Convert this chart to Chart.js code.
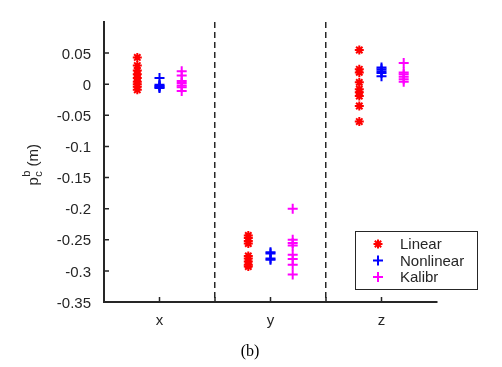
<!DOCTYPE html>
<html>
<head>
    <title>p_c^b per axis</title>
    <style>
        body { margin: 0; background: #fff; }
    </style>
</head>
<body>
    <canvas id="plot" width="502" height="367"></canvas>

<script src="https://cdn.jsdelivr.net/npm/chart.js@4.4.0/dist/chart.umd.min.js"></script>
<script>
    // categories on the x axis
    const categories = ['x', 'y', 'z'];
    const seriesNames = ['Linear', 'Nonlinear', 'Kalibr'];
    const caption = '(b)';

    // metres
    const linearX = [0.043, 0.03, 0.022, 0.016, 0.01, 0.004, 0.0, -0.004, -0.009];
    const linearY = [-0.243, -0.247, -0.252, -0.256, -0.276, -0.28, -0.285, -0.29, -0.293];
    const linearZ = [0.055, 0.024, 0.019, 0.003, -0.008, -0.013, -0.019, -0.035, -0.06];

    const nonlinearX = [0.01, -0.001, -0.003, -0.005, -0.006];
    const nonlinearY = [-0.27, -0.272, -0.28, -0.282];
    const nonlinearZ = [0.027, 0.024, 0.021, 0.018, 0.013];

    const kalibrX = [0.021, 0.014, 0.005, 0.002, -0.002, -0.005, -0.011];
    const kalibrY = [-0.2, -0.25, -0.255, -0.259, -0.274, -0.281, -0.29, -0.306];
    const kalibrZ = [0.034, 0.019, 0.016, 0.012, 0.008, 0.004];

    const yTicks = [0.05, 0, -0.05, -0.1, -0.15, -0.2, -0.25, -0.3, -0.35];

    const ink = '#262626';
    const sans = "'Liberation Sans', Arial, sans-serif";

    function points(cols, shift) {
        return cols.flatMap((vals, i) => vals.map(v => ({ x: i + 1 + shift, y: v })));
    }

    const series = [
        { label: seriesNames[0], data: points([linearX, linearY, linearZ], -0.2), color: '#ff0000', style: 'star', r: 4.5 },
        { label: seriesNames[1], data: points([nonlinearX, nonlinearY, nonlinearZ], 0), color: '#0000ff', style: 'cross', r: 5 },
        { label: seriesNames[2], data: points([kalibrX, kalibrY, kalibrZ], 0.2), color: '#ff00ff', style: 'cross', r: 5 },
    ];

    // small marker drawer for the legend
    function marker(ctx, style, x, y, r) {
        ctx.beginPath();
        ctx.moveTo(x - r, y); ctx.lineTo(x + r, y);
        ctx.moveTo(x, y - r); ctx.lineTo(x, y + r);
        if (style === 'star') {
            const d = r * Math.SQRT1_2;
            ctx.moveTo(x - d, y - d); ctx.lineTo(x + d, y + d);
            ctx.moveTo(x - d, y + d); ctx.lineTo(x + d, y - d);
        }
        ctx.stroke();
    }

    // inward tick marks like matlab
    const innerTicks = {
        id: 'innerTicks',
        afterDraw(chart) {
            const ctx = chart.ctx;
            const xs = chart.scales.x, ys = chart.scales.y;
            const area = chart.chartArea;
            ctx.save();
            ctx.strokeStyle = ink;
            ctx.lineWidth = 1.5;
            ctx.beginPath();
            [1, 1.5, 2, 2.5, 3].forEach(v => {
                const px = xs.getPixelForValue(v);
                ctx.moveTo(px, area.bottom);
                ctx.lineTo(px, area.bottom - 5);
            });
            yTicks.forEach(v => {
                const py = ys.getPixelForValue(v);
                ctx.moveTo(area.left, py);
                ctx.lineTo(area.left + 5, py);
            });
            ctx.stroke();
            ctx.restore();
        }
    };

    // y title with sub- and superscript, plus the caption under the axes
    const labels = {
        id: 'labels',
        afterDraw(chart) {
            const ctx = chart.ctx;
            ctx.save();
            ctx.translate(38, 165);
            ctx.rotate(-Math.PI / 2);
            ctx.fillStyle = ink;
            ctx.textBaseline = 'alphabetic';
            ctx.textAlign = 'left';
            ctx.font = '15px ' + sans;
            const wp = ctx.measureText('p').width;
            const wm = ctx.measureText(' (m)').width;
            ctx.font = '11px ' + sans;
            const ws = Math.max(ctx.measureText('b').width, ctx.measureText('c').width);
            let x = -(wp + ws + wm) / 2;
            ctx.font = '15px ' + sans;
            ctx.fillText('p', x, 0);
            x += wp + 0.5;
            ctx.font = '11px ' + sans;
            ctx.fillText('c', x, 4);
            ctx.fillText('b', x, -8);
            x += ws;
            ctx.font = '15px ' + sans;
            ctx.fillText(' (m)', x, 0);
            ctx.restore();

            ctx.save();
            ctx.fillStyle = '#000';
            ctx.font = "16px 'Liberation Serif', 'Times New Roman', serif";
            ctx.textAlign = 'center';
            ctx.textBaseline = 'middle';
            ctx.fillText(caption, chart.width / 2 - 1, 352);
            ctx.restore();
        }
    };

    const boxLegend = {
        id: 'boxLegend',
        afterDraw(chart) {
            const ctx = chart.ctx;
            const area = chart.chartArea;
            const left = area.right - 82, top = area.bottom - 71, w = 122, h = 58;
            ctx.save();
            ctx.fillStyle = '#fff';
            ctx.fillRect(left, top, w, h);
            ctx.strokeStyle = ink;
            ctx.lineWidth = 1;
            ctx.strokeRect(left + 0.5, top + 0.5, w, h);
            ctx.font = '15px ' + sans;
            ctx.textBaseline = 'middle';
            series.forEach((s, i) => {
                const cy = top + 13 + i * 16.5;
                ctx.strokeStyle = s.color;
                ctx.lineWidth = 2;
                marker(ctx, s.style, left + 23, cy, s.r);
                ctx.fillStyle = ink;
                ctx.fillText(s.label, left + 45, cy + 1);
            });
            ctx.restore();
        }
    };

    const plot = new Chart(document.getElementById('plot'), {
        type: 'scatter',
        data: {
            datasets: series.map(s => ({
                label: s.label,
                data: s.data,
                pointStyle: s.style,
                pointRadius: s.r,
                pointHoverRadius: s.r,
                pointBorderWidth: 2,
                borderColor: s.color,
                backgroundColor: s.color,
                showLine: false,
            })),
        },
        options: {
            responsive: false,
            animation: false,
            layout: { padding: { top: 22, right: 65, left: 0, bottom: 25 } },
            plugins: {
                legend: { display: false },
                tooltip: { enabled: false },
            },
            scales: {
                x: {
                    type: 'linear',
                    min: 0.5,
                    max: 3.5,
                    afterFit: s => { s.height = 40; },
                    ticks: {
                        stepSize: 0.5,
                        padding: 10,
                        color: ink,
                        font: { family: sans, size: 15 },
                        maxRotation: 0,
                        autoSkip: false,
                        callback: v => Number.isInteger(v) && v >= 1 && v <= 3 ? categories[v - 1] : '',
                    },
                    grid: {
                        drawTicks: false,
                        lineWidth: 1.5,
                        color: c => (c.tick && (c.tick.value === 1.5 || c.tick.value === 2.5)) ? ink : 'rgba(0,0,0,0)',
                    },
                    border: { color: ink, width: 2, dash: [6, 4] },
                },
                y: {
                    min: -0.35,
                    max: 0.1,
                    afterFit: s => { s.width = 104; },
                    ticks: {
                        stepSize: 0.05,
                        padding: 13,
                        labelOffset: 1.5,
                        color: ink,
                        font: { family: sans, size: 15 },
                        callback: v => yTicks.some(t => Math.abs(t - v) < 1e-9) ? String(Math.round(v * 100) / 100) : '',
                    },
                    grid: { display: false, drawTicks: false },
                    border: { color: ink, width: 2 },
                },
            },
        },
        plugins: [innerTicks, labels, boxLegend],
    });
</script>
</body>
</html>
